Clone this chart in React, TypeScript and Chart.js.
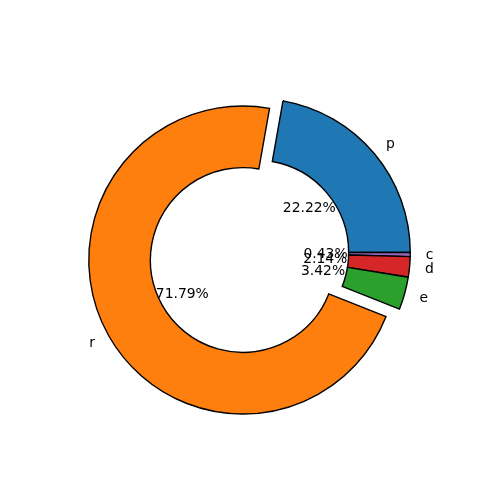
import { useEffect, useRef } from "react";
import { Chart, registerables } from "chart.js";

Chart.register(...registerables);

// slices in clockwise order, starting from the top-right
const labels = ["p", "c", "d", "e", "r"];
const values = [52, 1, 5, 8, 168];
const colors = ["#1f77b4", "#9467bd", "#d62728", "#2ca02c", "#ff7f0e"];
const explode = [0, 0, 0, 0, 0.1];

const FONT = '13.9px "DejaVu Sans"';
const LABEL_DIST = 1.1;
const PCT_DIST = 0.45;

const wedgePlugin = {
  id: "wedges",
  beforeDatasetsDraw(chart: any) {
    const ctx = chart.ctx;
    const meta = chart.getDatasetMeta(0);
    const total = values.reduce((a, b) => a + b, 0);

    // wedges, shifted out where exploded
    meta.data.forEach((arc: any, i: number) => {
      const mid = (arc.startAngle + arc.endAngle) / 2;
      const d = explode[i] * arc.outerRadius;
      ctx.save();
      ctx.translate(Math.cos(mid) * d, Math.sin(mid) * d);
      arc.draw(ctx);
      ctx.restore();
    });

    // labels and percentages
    ctx.save();
    ctx.font = FONT;
    ctx.fillStyle = "#000";
    meta.data.forEach((arc: any, i: number) => {
      const mid = (arc.startAngle + arc.endAngle) / 2;
      const R = arc.outerRadius;
      const d = explode[i] * R;
      const cx = arc.x + Math.cos(mid) * d;
      const cy = arc.y + Math.sin(mid) * d;

      const lx = cx + Math.cos(mid) * LABEL_DIST * R;
      const ly = cy + Math.sin(mid) * LABEL_DIST * R;
      ctx.textAlign = lx > arc.x ? "left" : "right";
      ctx.textBaseline = "middle";
      ctx.fillText(labels[i], lx, ly + 0.5);

      const px = cx + Math.cos(mid) * PCT_DIST * R;
      const py = cy + Math.sin(mid) * PCT_DIST * R;
      ctx.textAlign = "center";
      ctx.fillText(((values[i] / total) * 100).toFixed(2) + "%", px, py + 0.5);
    });
    ctx.restore();
    return false;
  },
};

export default function App() {
  const chartRef = useRef<HTMLCanvasElement>(null);
  const chartInstanceRef = useRef<Chart | null>(null);

  useEffect(() => {
    if (!chartRef.current) return;
    if (chartInstanceRef.current) {
      chartInstanceRef.current.destroy();
    }

    chartInstanceRef.current = new Chart(chartRef.current, {
      type: "doughnut",
      data: {
        labels,
        datasets: [
          {
            data: values,
            backgroundColor: colors,
            borderColor: "#000",
            borderWidth: 1.4,
            borderJoinStyle: "miter",
          },
        ],
      },
      options: {
        responsive: false,
        animation: false,
        rotation: 10,
        radius: 154,
        cutout: "60%",
        layout: { padding: { left: 12.5, top: 5, right: 0, bottom: 0 } },
        plugins: {
          legend: { display: false },
          tooltip: { enabled: false },
        },
        events: [],
      },
      plugins: [wedgePlugin],
    } as any);

    return () => {
      if (chartInstanceRef.current) {
        chartInstanceRef.current.destroy();
        chartInstanceRef.current = null;
      }
    };
  }, []);

  return (
    <div style={{ position: "fixed", left: 0, top: 0, width: 500, height: 500, background: "#fff" }}>
      <canvas ref={chartRef} width={500} height={500} />
    </div>
  );
}
